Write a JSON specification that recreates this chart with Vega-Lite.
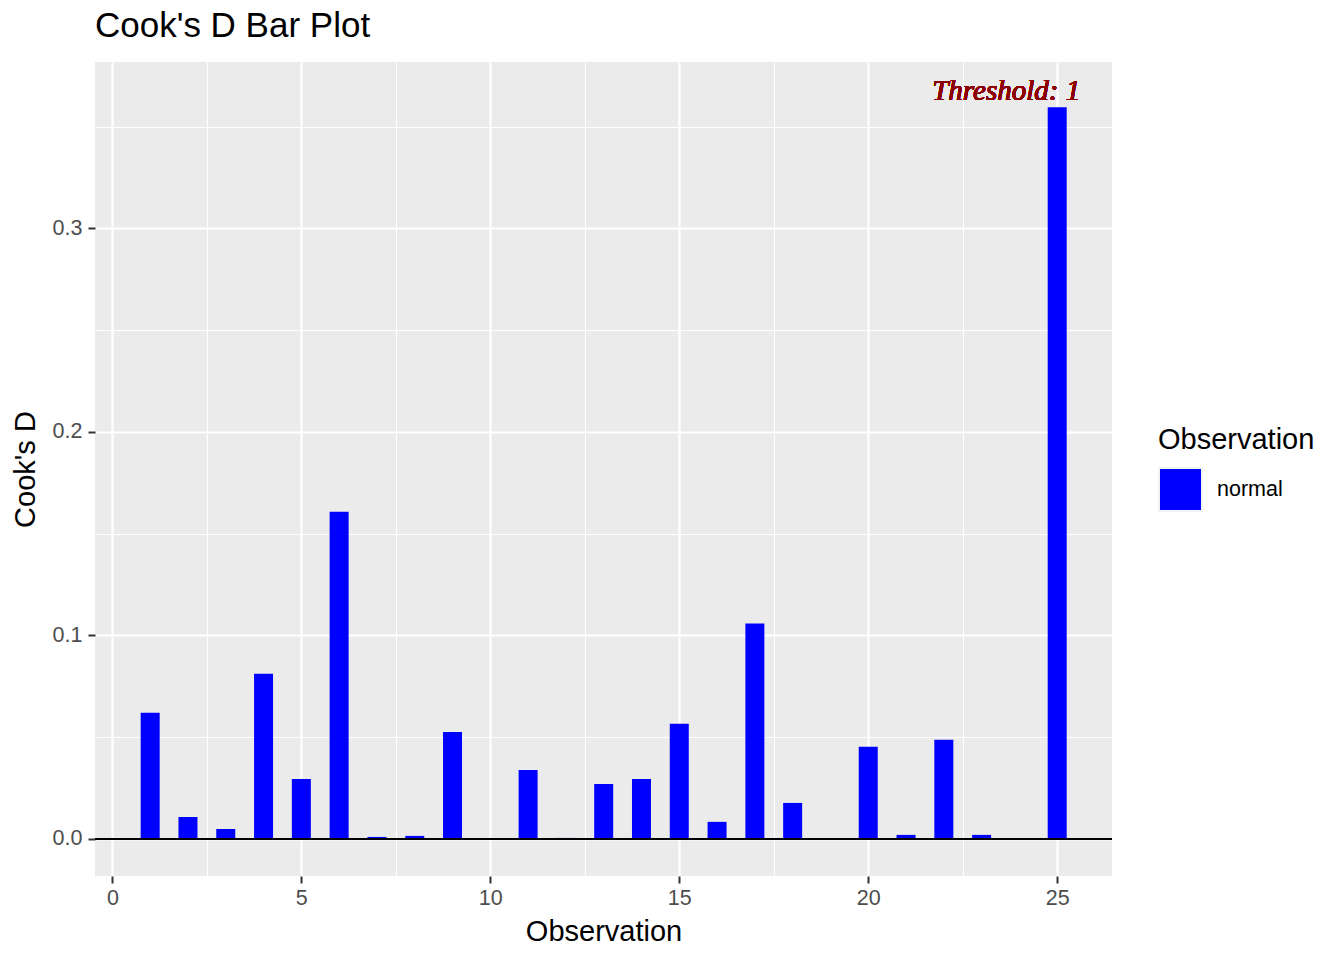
{
  "$schema": "https://vega.github.io/schema/vega-lite/v6.json",
  "autosize": "none",
  "width": 1017,
  "height": 814,
  "padding": {"left": 95, "top": 62, "right": 232, "bottom": 84},
  "background": "white",
  "config": {
    "font": "Liberation Sans",
    "view": {"fill": "#EBEBEB", "stroke": null},
    "axis": {
      "gridColor": "white",
      "gridWidth": 2.2,
      "domain": false,
      "tickColor": "#333333",
      "tickSize": 7,
      "tickWidth": 2,
      "labelColor": "#4D4D4D",
      "labelFontSize": 21.5,
      "labelFont": "Liberation Sans",
      "titleFont": "Liberation Sans",
      "titleFontSize": 29,
      "titleFontWeight": "normal",
      "titleColor": "black"
    }
  },
  "title": {
    "text": "Cook's D Bar Plot",
    "anchor": "start",
    "frame": "group",
    "fontSize": 35,
    "fontWeight": "normal",
    "font": "Liberation Sans",
    "color": "black",
    "offset": 18
  },
  "data": {
    "values": [
      {"obs": 1, "cd": 0.062, "type": "normal"},
      {"obs": 2, "cd": 0.0108, "type": "normal"},
      {"obs": 3, "cd": 0.0049, "type": "normal"},
      {"obs": 4, "cd": 0.0812, "type": "normal"},
      {"obs": 5, "cd": 0.0295, "type": "normal"},
      {"obs": 6, "cd": 0.1608, "type": "normal"},
      {"obs": 7, "cd": 0.001, "type": "normal"},
      {"obs": 8, "cd": 0.0015, "type": "normal"},
      {"obs": 9, "cd": 0.0526, "type": "normal"},
      {"obs": 10, "cd": 0.0, "type": "normal"},
      {"obs": 11, "cd": 0.0339, "type": "normal"},
      {"obs": 12, "cd": 0.0005, "type": "normal"},
      {"obs": 13, "cd": 0.027, "type": "normal"},
      {"obs": 14, "cd": 0.0295, "type": "normal"},
      {"obs": 15, "cd": 0.0566, "type": "normal"},
      {"obs": 16, "cd": 0.0084, "type": "normal"},
      {"obs": 17, "cd": 0.1058, "type": "normal"},
      {"obs": 18, "cd": 0.0177, "type": "normal"},
      {"obs": 19, "cd": 0.0, "type": "normal"},
      {"obs": 20, "cd": 0.0453, "type": "normal"},
      {"obs": 21, "cd": 0.002, "type": "normal"},
      {"obs": 22, "cd": 0.0487, "type": "normal"},
      {"obs": 23, "cd": 0.002, "type": "normal"},
      {"obs": 24, "cd": 0.0, "type": "normal"},
      {"obs": 25, "cd": 0.3595, "type": "normal"}
    ]
  },
  "layer": [
    {
      "mark": {"type": "rule", "opacity": 0},
      "encoding": {
        "x": {"datum": 0, "type": "quantitative",
          "axis": {"orient": "bottom", "values": [2.5, 7.5, 12.5, 17.5, 22.5], "labels": false, "ticks": false, "domain": false, "grid": true, "gridWidth": 1.1, "title": null}}
      }
    },
    {
      "mark": {"type": "rule", "opacity": 0},
      "encoding": {
        "y": {"datum": 0, "type": "quantitative",
          "axis": {"orient": "left", "values": [0.05, 0.15, 0.25, 0.35], "labels": false, "ticks": false, "domain": false, "grid": true, "gridWidth": 1.1, "title": null}}
      }
    },
    {
      "mark": {"type": "bar", "size": 19, "clip": true},
      "encoding": {
        "x": {
          "field": "obs", "type": "quantitative",
          "scale": {"domain": [-0.46, 26.45], "nice": false, "zero": false, "padding": 0},
          "axis": {"orient": "bottom", "grid": true, "title": "Observation", "values": [0, 5, 10, 15, 20, 25], "format": "d", "labelPadding": 4, "titlePadding": 9}
        },
        "y": {
          "field": "cd", "type": "quantitative",
          "scale": {"domain": [-0.0182, 0.3817], "nice": false, "zero": false, "padding": 0},
          "axis": {"orient": "left", "grid": true, "title": "Cook's D", "values": [0, 0.1, 0.2, 0.3], "format": ".1f", "labelPadding": 6, "titlePadding": 12}
        },
        "y2": {"datum": 0},
        "color": {
          "field": "type", "type": "nominal",
          "scale": {"domain": ["normal"], "range": ["#0000FF"]},
          "legend": {
            "title": "Observation",
            "orient": "none",
            "legendX": 1063,
            "legendY": 364,
            "titleFontSize": 29,
            "titleFontWeight": "normal",
            "titleColor": "black",
            "titleFont": "Liberation Sans",
            "titlePadding": 12,
            "labelFontSize": 21.5,
            "labelColor": "black",
            "labelFont": "Liberation Sans",
            "labelOffset": 14,
            "symbolType": "square",
            "symbolSize": 1849,
            "symbolStrokeColor": "#F2F2F2",
            "symbolStrokeWidth": 2,
            "symbolOpacity": 1
          }
        }
      }
    },
    {
      "mark": {"type": "rule", "color": "black", "strokeWidth": 2},
      "encoding": {"y": {"datum": 0, "type": "quantitative", "axis": null}}
    },
    {
      "mark": {
        "type": "text",
        "font": "Liberation Serif",
        "fontStyle": "italic",
        "fontSize": 29,
        "color": "#8B0000",
        "align": "center",
        "baseline": "alphabetic"
      },
      "encoding": {
        "x": {"datum": 23.65, "type": "quantitative", "axis": null},
        "y": {"datum": 0.363, "type": "quantitative", "axis": null},
        "text": {"value": "Threshold: 1"}
      }
    }
  ],
  "resolve": {"axis": {"x": "independent", "y": "independent"}}
}
